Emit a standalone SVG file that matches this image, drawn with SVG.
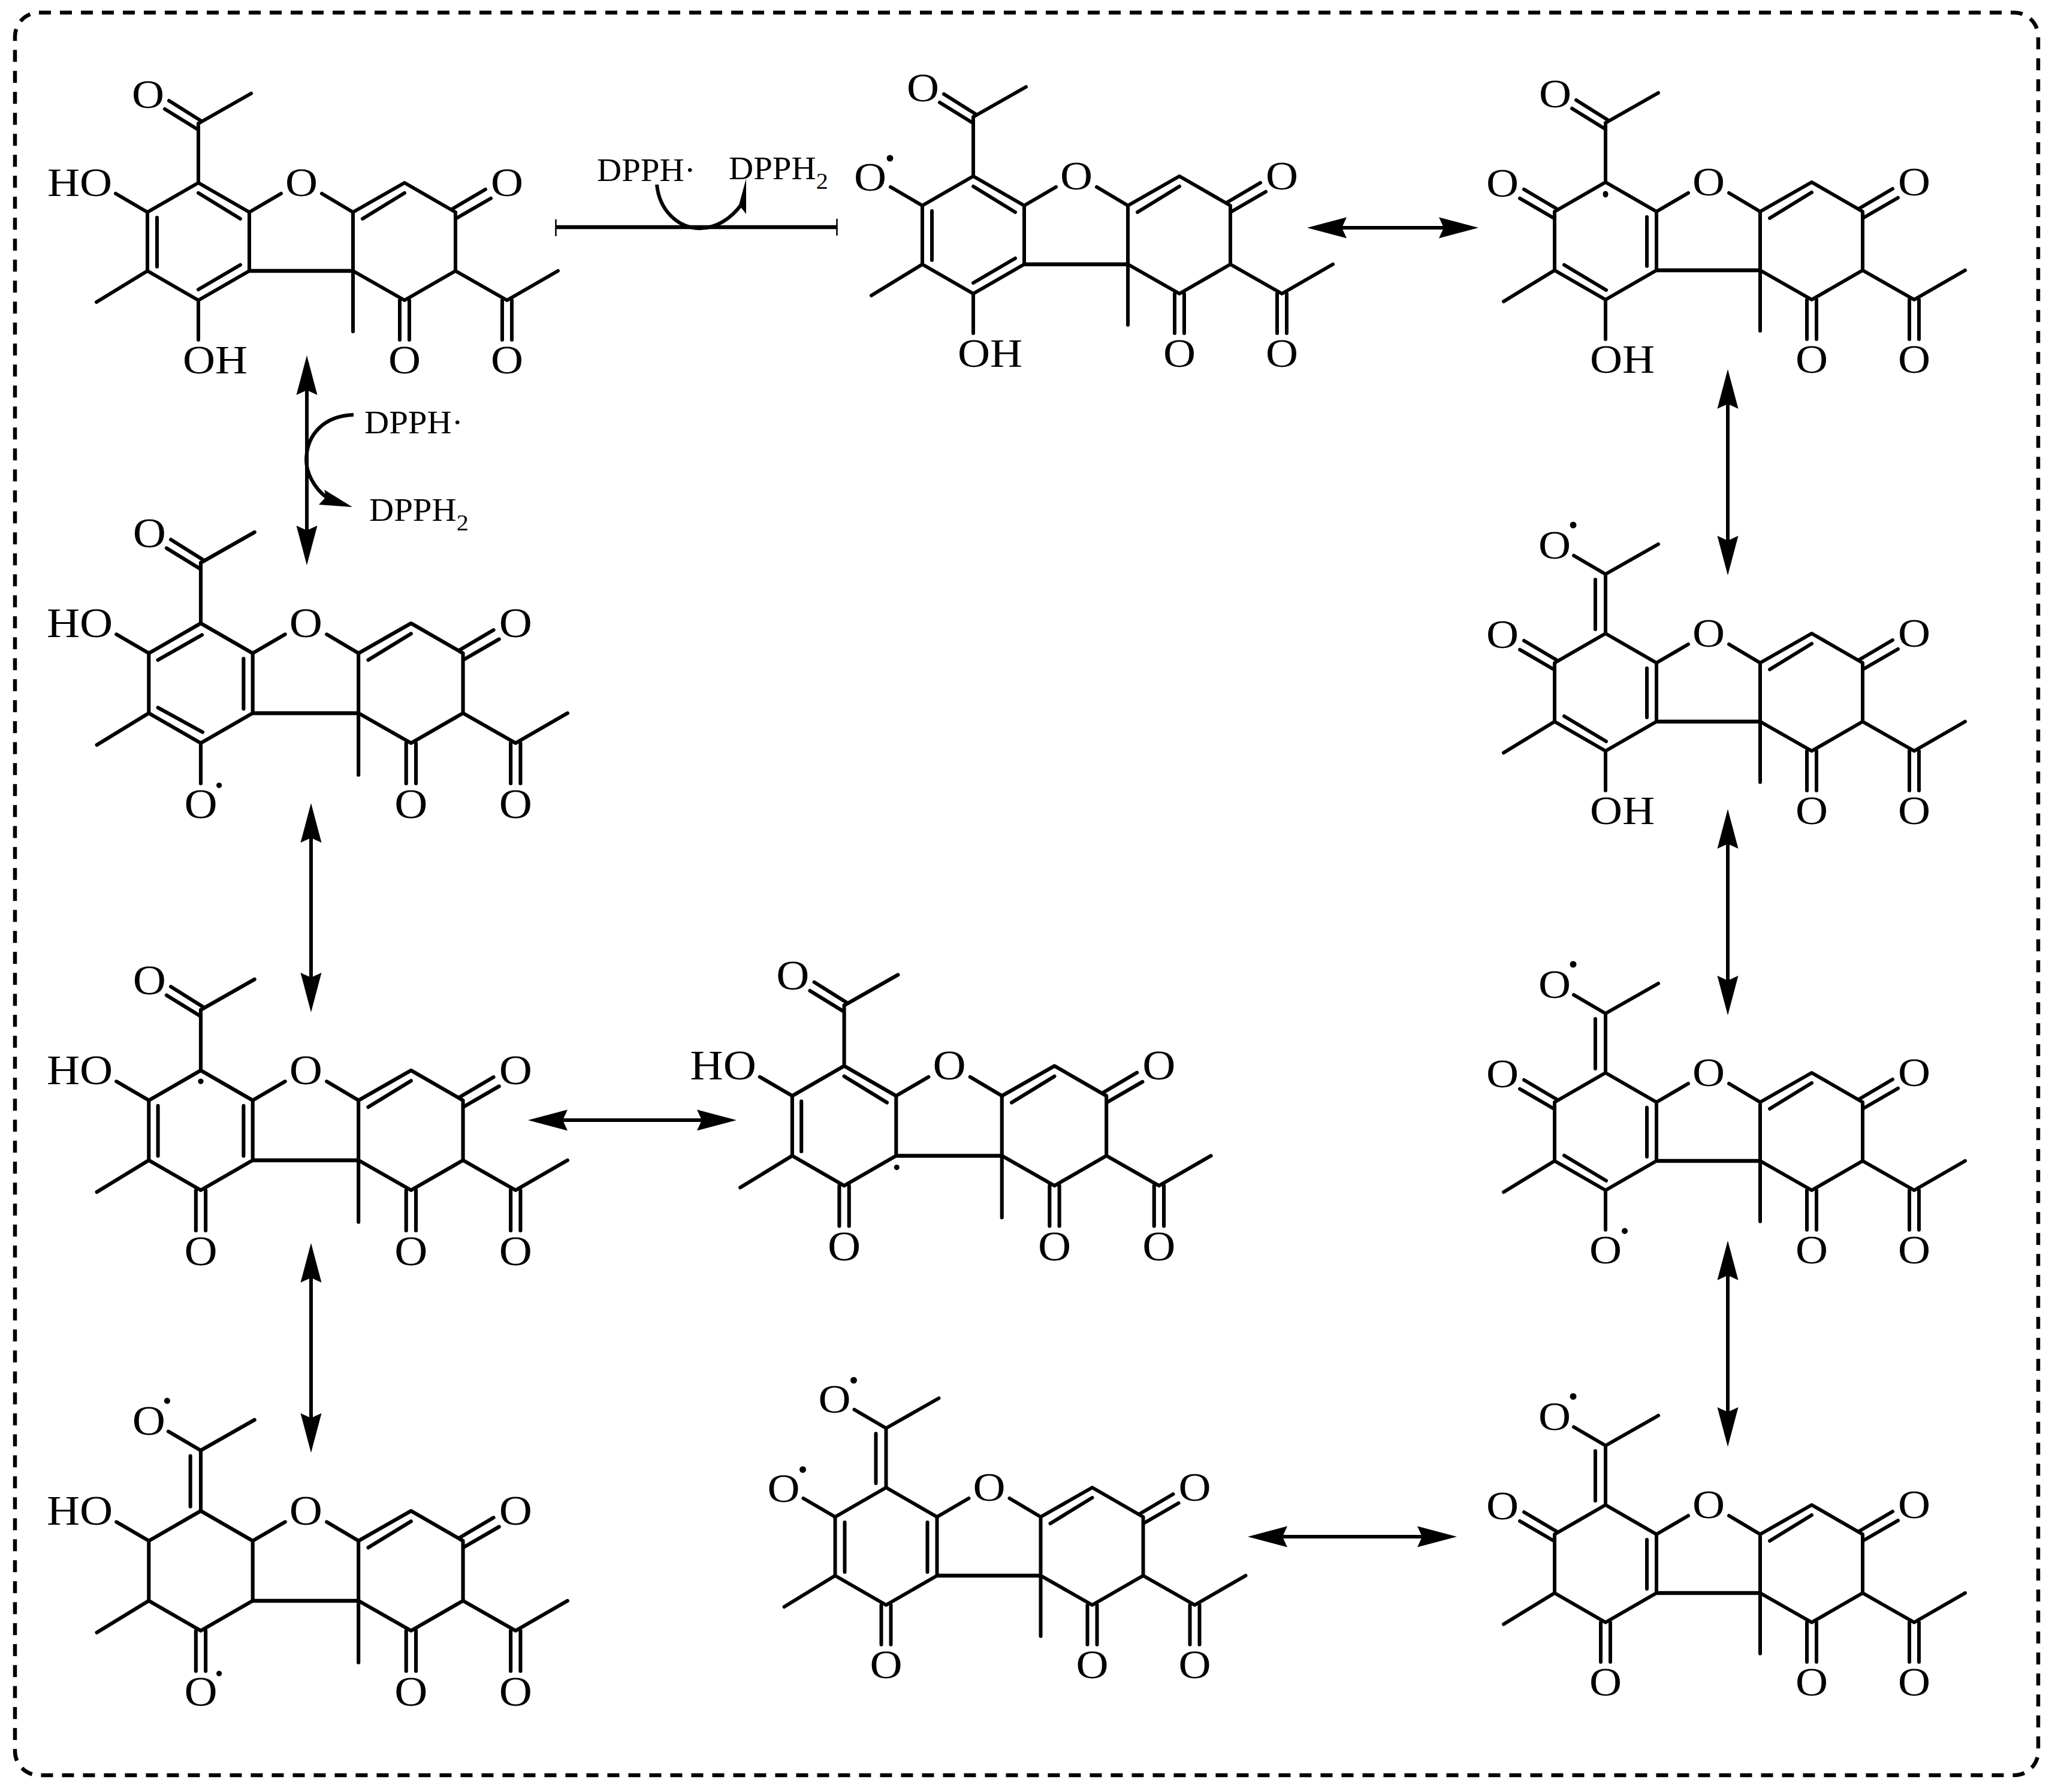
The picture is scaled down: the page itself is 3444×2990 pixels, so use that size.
<svg xmlns="http://www.w3.org/2000/svg" width="3444" height="2990" viewBox="0 0 3444 2990">
<style>
.b{fill:none;stroke:#000;stroke-width:6;stroke-linecap:round;stroke-linejoin:round}
.h{fill:none;stroke:#000;stroke-width:6.5}
.t{font-family:"Liberation Serif","Times New Roman",serif;font-size:70px;text-anchor:middle;fill:#000;transform-box:fill-box;transform-origin:center;transform:scale(1.07,.97)}
.d{font-family:"Liberation Serif","Times New Roman",serif;font-size:54px;fill:#000;transform-box:fill-box;transform-origin:0 0;transform:scaleX(1.055)}
.s{font-size:38px}
.c{fill:none;stroke:#000;stroke-width:6}
.a{fill:none;stroke:#000;stroke-width:6;marker-start:url(#head);marker-end:url(#head)}
</style>
<defs>
<marker id="head" markerUnits="userSpaceOnUse" markerWidth="70" markerHeight="40" refX="8" refY="20" orient="auto-start-reverse" viewBox="0 0 70 40">
<path d="M0,2.500L8,20L0,37.500L66,20Z" fill="#000"/>
</marker>
<g id="core">
<path class="b" d="M0,0L85,49V147L0,196L-85,147V49Z"/>
<path class="b" d="M85,49L138,18M206,18L258,49V147L344,196L429,147V49L344,0L258,49"/>
<path class="h" d="M85,147H258"/>
<path class="b" d="M258,147V248M429,147L515,196L600,147M-85,147L-170,199M274,60L344,17"/>
<path class="b" d="M423,44L479,11M431,59L488,26M336,196V262M352,196V262M507,196V262M523,196V262"/>
</g>
</defs>
<rect id="frame" x="25" y="21" width="3376" height="2941" rx="40" ry="40" fill="none" stroke="#000" stroke-width="6.500" stroke-dasharray="20 15"/>
<g id="connectors">
<path class="a" d="M512,651V885"/>
<path class="a" d="M519,1398V1631"/>
<path class="a" d="M519,2132V2366"/>
<path class="a" d="M939,1869H1171"/>
<path class="a" d="M2239,380H2409"/>
<path class="a" d="M2140,2564H2373"/>
<path class="a" d="M2883,674V902"/>
<path class="a" d="M2883,1408V1636"/>
<path class="a" d="M2883,2128V2356"/>
<path d="M927.500,379H1396" fill="none" stroke="#000" stroke-width="6.500"/>
<path d="M927.500,366V394M1396.500,365V393" fill="none" stroke="#000" stroke-width="2.500"/>
<path class="c" d="M1096,308C1100,350 1130,380 1167,381C1195,381 1220,365 1238,340"/>
<path d="M1245,298L1233,342L1245,357Z" fill="#000"/>
<path class="c" d="M590,692C540,694 512,725 511,767C511,790 525,815 545,830"/>
<path d="M588,846L541,817L544,829L532,842Z" fill="#000"/>
</g>
<g id="labels">
<text class="d" x="996" y="302">DPPH·</text>
<text class="d" x="1216" y="299">DPPH<tspan class="s" dy="16">2</tspan></text>
<text class="d" x="608" y="723">DPPH·</text>
<text class="d" x="616" y="869">DPPH<tspan class="s" dy="16">2</tspan></text>
</g>
<g id="mol1" transform="translate(331,305)">
<use href="#core"/>
<path class="b" d="M0,0V-99M88,-149L0,-99M-49,-137L5,-103M-56,-123L-1,-89M0,17L70,60M70,137L0,178M-69,58V140M-85,49L-138,18M0,196V262"/>
<text class="t" x="172" y="23">O</text><text class="t" x="515" y="23">O</text><text class="t" x="344" y="319">O</text><text class="t" x="515" y="319">O</text>
<text class="t" x="-84" y="-124">O</text><text class="t" x="-198" y="23">HO</text><text class="t" x="28" y="319">OH</text>
</g>
<g id="mol2" transform="translate(1624,294)">
<use href="#core"/>
<path class="b" d="M0,0V-99M88,-149L0,-99M-49,-137L5,-103M-56,-123L-1,-89M0,17L70,60M70,137L0,178M-69,58V140M-85,49L-138,18M0,196V262"/>
<text class="t" x="172" y="23">O</text><text class="t" x="515" y="23">O</text><text class="t" x="344" y="319">O</text><text class="t" x="515" y="319">O</text>
<text class="t" x="-84" y="-124">O</text><text class="t" x="-172" y="25">O</text><text class="t" x="28" y="319">OH</text>
<circle cx="-139" cy="-30" r="5.500"/>
</g>
<g id="mol3" transform="translate(2679,304)">
<use href="#core"/>
<path class="b" d="M0,0V-99M88,-149L0,-99M-49,-137L5,-103M-56,-123L-1,-89M-82,44L-136,12M-88,59L-143,27M69,58V140M-69,138L1,180M0,196V262"/>
<text class="t" x="172" y="23">O</text><text class="t" x="515" y="23">O</text><text class="t" x="344" y="319">O</text><text class="t" x="515" y="319">O</text>
<text class="t" x="-84" y="-124">O</text><text class="t" x="-172" y="25">O</text><text class="t" x="28" y="319">OH</text>
<ellipse cx="0" cy="20" rx="4.500" ry="5.500"/>
</g>
<g id="mol4" transform="translate(335,1040) scale(1.02)">
<use href="#core"/>
<path class="b" d="M0,0V-99M88,-149L0,-99M-49,-137L5,-103M-56,-123L-1,-89M-70,60L2,19M70,58V140M-70,138L3,178M-85,49L-138,18M0,196V262"/>
<text class="t" x="172" y="23">O</text><text class="t" x="515" y="23">O</text><text class="t" x="344" y="319">O</text><text class="t" x="515" y="319">O</text>
<text class="t" x="-84" y="-124">O</text><text class="t" x="-198" y="23">HO</text><text class="t" x="0" y="319">O</text>
<circle cx="30" cy="265" r="4.500"/>
</g>
<g id="mol5" transform="translate(335,1786) scale(1.02)">
<use href="#core"/>
<path class="b" d="M0,0V-99M88,-149L0,-99M-49,-137L5,-103M-56,-123L-1,-89M-70,58V140M70,58V140M-85,49L-138,18M-8,196V262M8,196V262"/>
<text class="t" x="172" y="23">O</text><text class="t" x="515" y="23">O</text><text class="t" x="344" y="319">O</text><text class="t" x="515" y="319">O</text>
<text class="t" x="-84" y="-124">O</text><text class="t" x="-198" y="23">HO</text><text class="t" x="0" y="319">O</text>
<circle cx="0" cy="18" r="4.500"/>
</g>
<g id="mol6" transform="translate(335,2521) scale(1.02)">
<use href="#core"/>
<path class="b" d="M0,0V-99M88,-149L0,-99M0,-99L-53,-130M-17,-90V-7M-85,49L-138,18M-8,196V262M8,196V262"/>
<text class="t" x="172" y="23">O</text><text class="t" x="515" y="23">O</text><text class="t" x="344" y="319">O</text><text class="t" x="515" y="319">O</text>
<text class="t" x="-85" y="-124">O</text><text class="t" x="-198" y="23">HO</text><text class="t" x="0" y="319">O</text>
<circle cx="-55" cy="-180" r="5"/><circle cx="30" cy="266" r="4.500"/>
</g>
<g id="mol7" transform="translate(1408.600,1778.500) scale(1.02)">
<use href="#core"/>
<path class="b" d="M0,0V-99M88,-149L0,-99M-49,-137L5,-103M-56,-123L-1,-89M0,17L70,60M-70,58V140M-85,49L-138,18M-8,196V262M8,196V262"/>
<text class="t" x="172" y="23">O</text><text class="t" x="515" y="23">O</text><text class="t" x="344" y="319">O</text><text class="t" x="515" y="319">O</text>
<text class="t" x="-84" y="-124">O</text><text class="t" x="-198" y="23">HO</text><text class="t" x="0" y="319">O</text>
<circle cx="86" cy="166" r="4.500"/>
</g>
<g id="mol8" transform="translate(1478.500,2482)">
<use href="#core"/>
<path class="b" d="M0,0V-99M88,-149L0,-99M0,-99L-53,-130M-17,-90V-7M-69,58V141M69,58V141M-85,49L-138,18M-8,196V262M8,196V262"/>
<text class="t" x="172" y="23">O</text><text class="t" x="515" y="23">O</text><text class="t" x="344" y="319">O</text><text class="t" x="515" y="319">O</text>
<text class="t" x="-86" y="-124">O</text><text class="t" x="-171" y="25">O</text><text class="t" x="0" y="319">O</text>
<circle cx="-54" cy="-179" r="5.500"/><circle cx="-139" cy="-30" r="5.500"/>
</g>
<g id="mol9" transform="translate(2679,1057)">
<use href="#core"/>
<path class="b" d="M0,0V-99M88,-149L0,-99M0,-99L-53,-130M-17,-90V-7M-82,44L-136,12M-88,59L-143,27M69,58V140M-69,138L1,180M0,196V262"/>
<text class="t" x="172" y="23">O</text><text class="t" x="515" y="23">O</text><text class="t" x="344" y="319">O</text><text class="t" x="515" y="319">O</text>
<text class="t" x="-85" y="-124">O</text><text class="t" x="-172" y="25">O</text><text class="t" x="28" y="319">OH</text>
<circle cx="-54" cy="-181" r="5.500"/>
</g>
<g id="mol10" transform="translate(2679,1790)">
<use href="#core"/>
<path class="b" d="M0,0V-99M88,-149L0,-99M0,-99L-53,-130M-17,-90V-7M-82,44L-136,12M-88,59L-143,27M69,58V140M-69,138L1,180M0,196V262"/>
<text class="t" x="172" y="23">O</text><text class="t" x="515" y="23">O</text><text class="t" x="344" y="319">O</text><text class="t" x="515" y="319">O</text>
<text class="t" x="-85" y="-124">O</text><text class="t" x="-172" y="25">O</text><text class="t" x="0" y="319">O</text>
<circle cx="-54" cy="-181" r="5.500"/><circle cx="32" cy="264" r="5"/>
</g>
<g id="mol11" transform="translate(2679,2511)">
<use href="#core"/>
<path class="b" d="M0,0V-99M88,-149L0,-99M0,-99L-53,-130M-17,-90V-7M-82,44L-136,12M-88,59L-143,27M69,58V140M-8,196V262M8,196V262"/>
<text class="t" x="172" y="23">O</text><text class="t" x="515" y="23">O</text><text class="t" x="344" y="319">O</text><text class="t" x="515" y="319">O</text>
<text class="t" x="-85" y="-124">O</text><text class="t" x="-172" y="25">O</text><text class="t" x="0" y="319">O</text>
<circle cx="-54" cy="-181" r="5.500"/>
</g>
</svg>
